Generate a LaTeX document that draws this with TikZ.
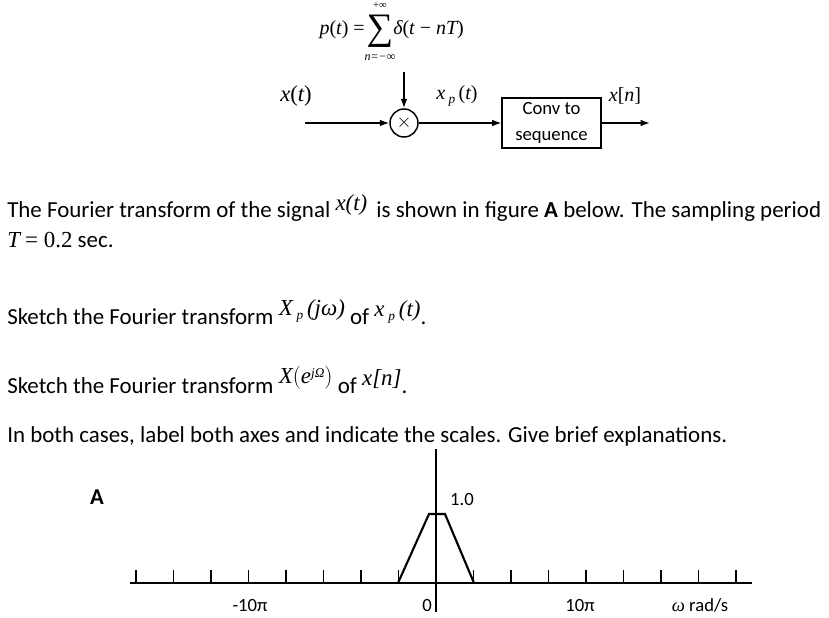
\documentclass[tikz,border=0pt]{standalone}
\usepackage{fontspec}
\setmainfont{Carlito}
\newfontfamily\tms{Liberation Serif}
\usetikzlibrary{arrows.meta}
\newcommand{\mi}[1]{{\tms\itshape #1}}
\newcommand{\sbs}[1]{\raisebox{-3pt}{\fontsize{10}{10}\selectfont\tms\itshape #1}}
\begin{document}
\begin{tikzpicture}[x=0.75pt,y=-0.75pt,
  txt/.style={anchor=west,inner sep=0,font=\fontsize{17.2}{20}\selectfont},
  mth/.style={inner sep=0,font=\fontsize{15}{18}\selectfont\tms},
  sml/.style={inner sep=0,font=\fontsize{9}{10}\selectfont\tms\itshape},
  sig/.style={line width=1.1pt,-{Latex[length=7pt,width=5pt]}},
  lab/.style={inner sep=0,font=\fontsize{14}{16}\selectfont}]
\useasboundingbox[fill=white] (0,0) rectangle (829,618);
% block diagram
\node[mth,anchor=east] (pl) at (365,30) {\mi{p}(\mi{t}) =};
\node[inner sep=0,font=\fontsize{28}{28}\selectfont\tms] (sum) at (380,31) {∑};
\node[sml,font=\fontsize{8}{9}\selectfont\tms] (sup) at (380,5) {+∞};
\node[sml] (sub) at (380,58) {n=−∞};
\node[mth,anchor=west] (pr) at (393,30) {\mi{δ}(\mi{t} − \mi{nT})};
\coordinate (ptop) at (404,72);
\node[draw,circle,line width=1.1pt,minimum size=28pt*0.75,inner sep=0] (m) at (404,123) {\fontsize{15}{15}\selectfont$\times$};
\coordinate (in) at (305,123);
\node[draw,line width=0.8pt,minimum width=99*0.75pt,minimum height=50*0.75pt,align=center,font=\fontsize{14}{19}\selectfont] (box) at (551.5,123) {Conv to\\sequence};
\coordinate (out) at (650,123);
\draw[sig] (ptop) -- (m);
\draw[sig] (in) -- (m);
\draw[sig] (m) -- (box);
\draw[sig] (box) -- (out);
\node[mth,font=\fontsize{17}{20}\selectfont\tms] (xt) at (296,96) {\mi{x}(\mi{t})};
\node[mth] (xp) at (457,96) {\mi{x}\,\sbs{p}\,(\mi{t})};
\node[mth] (xn) at (625,96) {\mi{x}[\mi{n}]};
% text
\node[txt] (l1) at (7,208) {The Fourier transform of the signal \raisebox{5pt}{\tms\itshape x(t)} \,is shown in figure \textbf{A} below. The sampling period};
\node[txt] (l2) at (7,240) {{\tms\itshape T} {\tms = 0.2} sec.};
\node[txt] (l3) at (7,312) {Sketch the Fourier transform \raisebox{7pt}{\tms\itshape X\,\sbs{p}\,(jω)} of \raisebox{6pt}{\tms\itshape x\,\sbs{p}\,(t)}.};
\node[txt] (l4) at (7,380) {Sketch the Fourier transform \raisebox{7pt}{\tms\itshape X$\bigl($e\raisebox{5pt}{\fontsize{10}{10}\selectfont jΩ}$\bigr)$} of \raisebox{6pt}{\tms\itshape x[n]}.};
\node[txt] (l5) at (7,436) {In both cases, label both axes and indicate the scales. Give brief explanations.};
% plot
\node[inner sep=0,font=\fontsize{17}{20}\selectfont\bfseries] (A) at (97,497) {A};
\draw[line width=1.1pt] (130,583) -- (752,583);
\draw[line width=0.8pt] (436,449) -- (436,612);
\foreach \k in {-8,...,8}{\ifnum\k=0\else\draw[line width=0.8pt] (436+37.5*\k,570) -- (436+37.5*\k,583);\fi}
\draw[line width=1.6pt] (398,583) -- (429,514) -- (445,514) -- (474,583);
\node[lab] (one) at (462,500) {1.0};
\node[lab] (m10) at (250,605) {-10π};
\node[lab] (z) at (427,605) {0};
\node[lab] (p10) at (580,605) {10π};
\node[lab] (w) at (700,605) {\mi{ω} rad/s};
\end{tikzpicture}
\end{document}
